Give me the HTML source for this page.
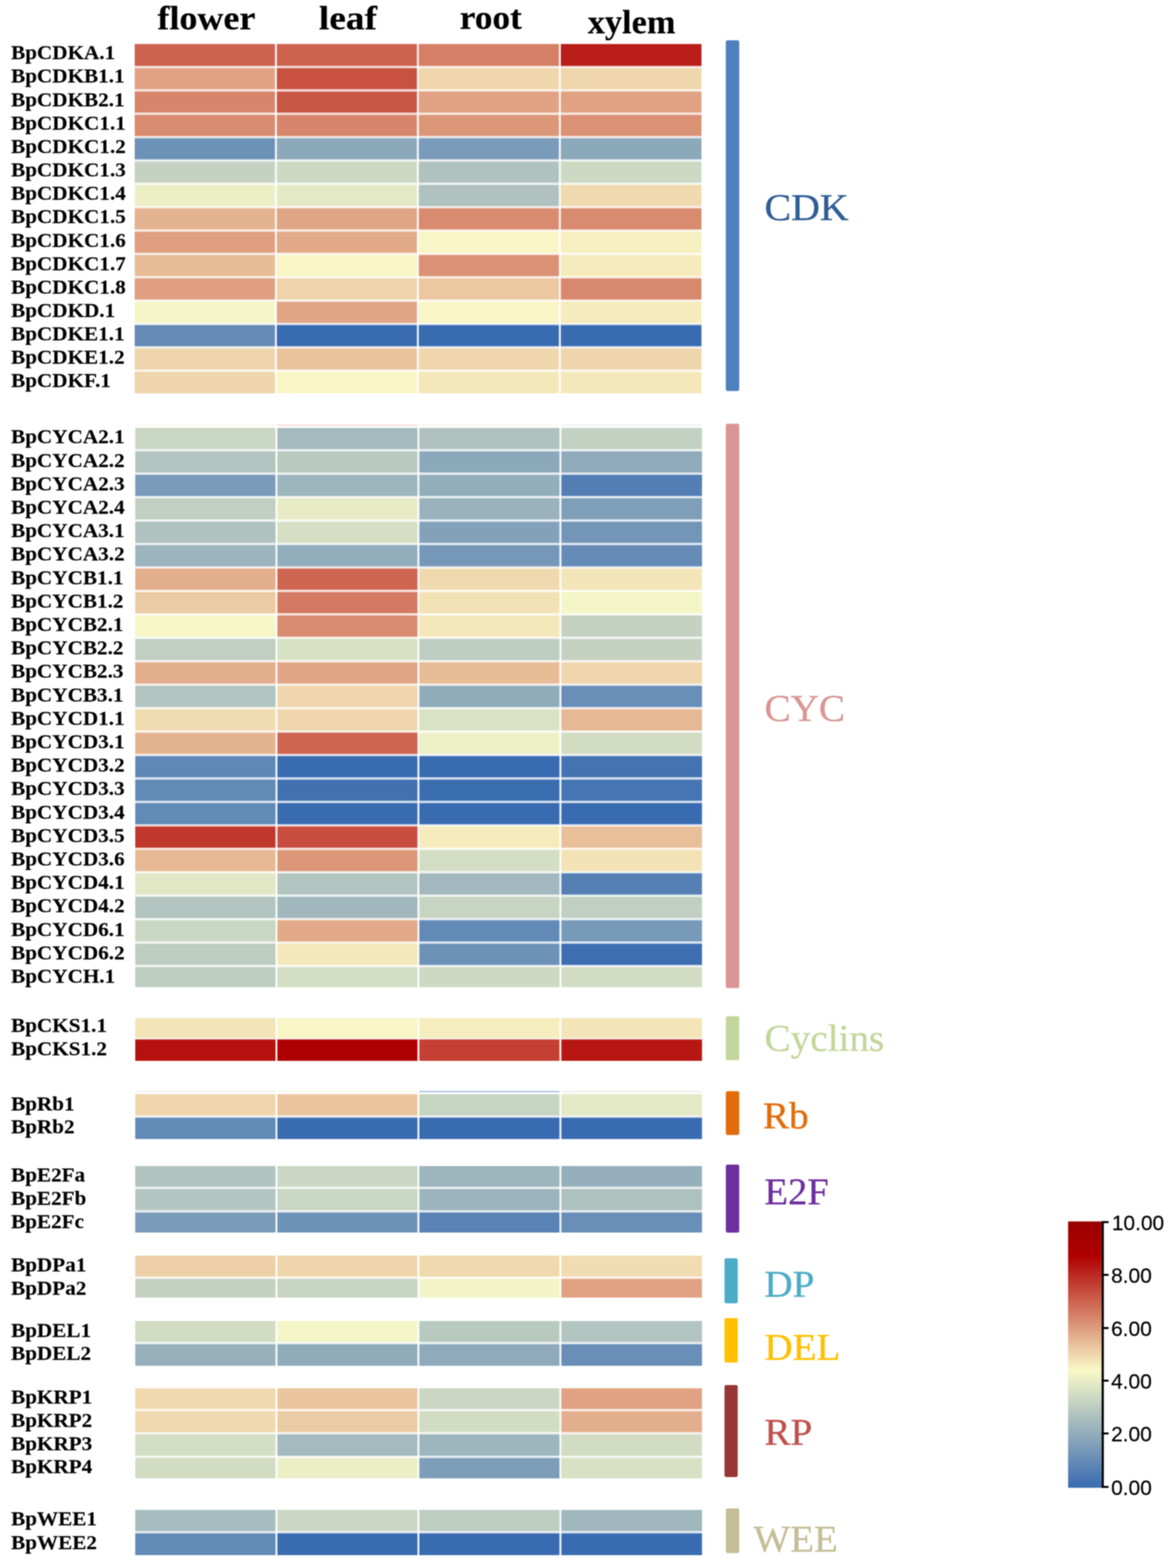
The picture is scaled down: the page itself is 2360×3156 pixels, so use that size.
<!DOCTYPE html>
<html lang="en"><head><meta charset="utf-8"><title>Heatmap</title>
<style>html,body{margin:0;padding:0;background:#fff}svg{display:block}.rl{font-family:"Liberation Serif",serif;font-weight:bold;font-size:41px;fill:#000;stroke:#000;stroke-width:.25px}.ch{font-family:"Liberation Serif",serif;font-weight:bold;font-size:68px;fill:#000;stroke:#000;stroke-width:.3px}.gl{font-family:"Liberation Serif",serif;font-size:76px;stroke-width:.6px}.tk{font-family:"Liberation Sans",sans-serif;font-size:42px;fill:#000;stroke:#000;stroke-width:.35px}</style></head><body>
<svg width="2360" height="3156" viewBox="0 0 2360 3156">
<defs><linearGradient id="cb" x1="0" y1="1" x2="0" y2="0">
<stop offset="0.000" stop-color="#396bb1"/>
<stop offset="0.440" stop-color="#f9f9c8"/>
<stop offset="0.870" stop-color="#b00000"/>
<stop offset="1.000" stop-color="#990000"/>
</linearGradient>
<filter id="soft" x="-2%" y="-2%" width="104%" height="104%" color-interpolation-filters="sRGB"><feGaussianBlur stdDeviation="1.2"/></filter>
</defs>
<rect width="2360" height="3156" fill="#fff"/>
<g filter="url(#soft)">
<text class="ch" x="316.8" y="59.0" textLength="197.0" lengthAdjust="spacingAndGlyphs">flower</text>
<text class="ch" x="641.5" y="59.0" textLength="117.0" lengthAdjust="spacingAndGlyphs">leaf</text>
<text class="ch" x="925.0" y="58.4" textLength="125.0" lengthAdjust="spacingAndGlyphs">root</text>
<text class="ch" x="1182.5" y="66.9" textLength="176.5" lengthAdjust="spacingAndGlyphs">xylem</text>
<rect x="272.1" y="854.9" width="282.1" height="1.7" fill="#f3efdc"/>
<rect x="558.2" y="854.9" width="281.6" height="1.7" fill="#efc4ac"/>
<rect x="843.8" y="854.9" width="281.7" height="1.7" fill="#f3efe2"/>
<rect x="1129.5" y="854.9" width="282.9" height="1.7" fill="#dfeaea"/>
<rect x="272.1" y="2196.2" width="282.1" height="1.7" fill="#e6e9da"/>
<rect x="558.2" y="2196.2" width="281.6" height="1.7" fill="#eeeedc"/>
<rect x="843.8" y="2196.2" width="281.7" height="1.7" fill="#7c9ccc"/>
<rect x="1129.5" y="2196.2" width="282.9" height="1.7" fill="#e3e9d8"/>
<rect x="271.0" y="88.60" width="284.1" height="46.30" fill="#cd624f"/>
<rect x="555.1" y="88.60" width="285.6" height="46.30" fill="#cd624f"/>
<rect x="840.7" y="88.60" width="285.7" height="46.30" fill="#d57f66"/>
<rect x="1126.4" y="88.60" width="284.9" height="46.30" fill="#b81d17"/>
<rect x="271.0" y="134.90" width="284.1" height="47.02" fill="#e0a282"/>
<rect x="555.1" y="134.90" width="285.6" height="47.02" fill="#c85141"/>
<rect x="840.7" y="134.90" width="285.7" height="47.02" fill="#efd6ac"/>
<rect x="1126.4" y="134.90" width="284.9" height="47.02" fill="#efd6ac"/>
<rect x="271.0" y="181.92" width="284.1" height="47.01" fill="#d7856b"/>
<rect x="555.1" y="181.92" width="285.6" height="47.01" fill="#c95746"/>
<rect x="840.7" y="181.92" width="285.7" height="47.01" fill="#e0a282"/>
<rect x="1126.4" y="181.92" width="284.9" height="47.01" fill="#e0a282"/>
<rect x="271.0" y="228.93" width="284.1" height="47.02" fill="#d98b70"/>
<rect x="555.1" y="228.93" width="285.6" height="47.02" fill="#d7856b"/>
<rect x="840.7" y="228.93" width="285.7" height="47.02" fill="#dc9779"/>
<rect x="1126.4" y="228.93" width="284.9" height="47.02" fill="#da9174"/>
<rect x="271.0" y="275.95" width="284.1" height="47.01" fill="#6d92b7"/>
<rect x="555.1" y="275.95" width="285.6" height="47.01" fill="#8ca8bb"/>
<rect x="840.7" y="275.95" width="285.7" height="47.01" fill="#7a9bb9"/>
<rect x="1126.4" y="275.95" width="284.9" height="47.01" fill="#8ca8bb"/>
<rect x="271.0" y="322.96" width="284.1" height="47.01" fill="#c5d2c2"/>
<rect x="555.1" y="322.96" width="285.6" height="47.01" fill="#cdd9c3"/>
<rect x="840.7" y="322.96" width="285.7" height="47.01" fill="#afc2bf"/>
<rect x="1126.4" y="322.96" width="284.9" height="47.01" fill="#cdd9c3"/>
<rect x="271.0" y="369.98" width="284.1" height="47.01" fill="#ecefc6"/>
<rect x="555.1" y="369.98" width="285.6" height="47.01" fill="#e3e9c5"/>
<rect x="840.7" y="369.98" width="285.7" height="47.01" fill="#afc2bf"/>
<rect x="1126.4" y="369.98" width="284.9" height="47.01" fill="#f0d9ae"/>
<rect x="271.0" y="416.99" width="284.1" height="47.01" fill="#e4b390"/>
<rect x="555.1" y="416.99" width="285.6" height="47.01" fill="#e0a585"/>
<rect x="840.7" y="416.99" width="285.7" height="47.01" fill="#d98b70"/>
<rect x="1126.4" y="416.99" width="284.9" height="47.01" fill="#d98b70"/>
<rect x="271.0" y="464.00" width="284.1" height="47.01" fill="#df9f80"/>
<rect x="555.1" y="464.00" width="285.6" height="47.01" fill="#e2aa88"/>
<rect x="840.7" y="464.00" width="285.7" height="47.01" fill="#f8f6c6"/>
<rect x="1126.4" y="464.00" width="284.9" height="47.01" fill="#f6f0c1"/>
<rect x="271.0" y="511.02" width="284.1" height="47.01" fill="#e7bc97"/>
<rect x="555.1" y="511.02" width="285.6" height="47.01" fill="#f8f6c6"/>
<rect x="840.7" y="511.02" width="285.7" height="47.01" fill="#da9174"/>
<rect x="1126.4" y="511.02" width="284.9" height="47.01" fill="#f5ebbc"/>
<rect x="271.0" y="558.03" width="284.1" height="47.01" fill="#df9f80"/>
<rect x="555.1" y="558.03" width="285.6" height="47.01" fill="#eed4aa"/>
<rect x="840.7" y="558.03" width="285.7" height="47.01" fill="#ebc8a0"/>
<rect x="1126.4" y="558.03" width="284.9" height="47.01" fill="#d8886d"/>
<rect x="271.0" y="605.05" width="284.1" height="47.01" fill="#f5f6c7"/>
<rect x="555.1" y="605.05" width="285.6" height="47.01" fill="#e0a585"/>
<rect x="840.7" y="605.05" width="285.7" height="47.01" fill="#f8f6c6"/>
<rect x="1126.4" y="605.05" width="284.9" height="47.01" fill="#f5ebbc"/>
<rect x="271.0" y="652.06" width="284.1" height="47.02" fill="#658bb6"/>
<rect x="555.1" y="652.06" width="285.6" height="47.02" fill="#396bb1"/>
<rect x="840.7" y="652.06" width="285.7" height="47.02" fill="#396bb1"/>
<rect x="1126.4" y="652.06" width="284.9" height="47.02" fill="#396bb1"/>
<rect x="271.0" y="699.08" width="284.1" height="47.01" fill="#eed5ab"/>
<rect x="555.1" y="699.08" width="285.6" height="47.01" fill="#e9c29c"/>
<rect x="840.7" y="699.08" width="285.7" height="47.01" fill="#efd6ac"/>
<rect x="1126.4" y="699.08" width="284.9" height="47.01" fill="#eed5ab"/>
<rect x="271.0" y="746.10" width="284.1" height="45.70" fill="#eed5ab"/>
<rect x="555.1" y="746.10" width="285.6" height="45.70" fill="#f8f6c6"/>
<rect x="840.7" y="746.10" width="285.7" height="45.70" fill="#f4e8ba"/>
<rect x="1126.4" y="746.10" width="284.9" height="45.70" fill="#f4e8ba"/>
<rect x="270.0" y="132.50" width="1142.3" height="4.80" fill="#fff" fill-opacity="0.78"/>
<rect x="270.0" y="179.52" width="1142.3" height="4.80" fill="#fff" fill-opacity="0.78"/>
<rect x="270.0" y="226.53" width="1142.3" height="4.80" fill="#fff" fill-opacity="0.78"/>
<rect x="270.0" y="273.55" width="1142.3" height="4.80" fill="#fff" fill-opacity="0.78"/>
<rect x="270.0" y="320.56" width="1142.3" height="4.80" fill="#fff" fill-opacity="0.78"/>
<rect x="270.0" y="367.58" width="1142.3" height="4.80" fill="#fff" fill-opacity="0.78"/>
<rect x="270.0" y="414.59" width="1142.3" height="4.80" fill="#fff" fill-opacity="0.78"/>
<rect x="270.0" y="461.61" width="1142.3" height="4.80" fill="#fff" fill-opacity="0.78"/>
<rect x="270.0" y="508.62" width="1142.3" height="4.80" fill="#fff" fill-opacity="0.78"/>
<rect x="270.0" y="555.63" width="1142.3" height="4.80" fill="#fff" fill-opacity="0.78"/>
<rect x="270.0" y="602.65" width="1142.3" height="4.80" fill="#fff" fill-opacity="0.78"/>
<rect x="270.0" y="649.66" width="1142.3" height="4.80" fill="#fff" fill-opacity="0.78"/>
<rect x="270.0" y="696.68" width="1142.3" height="4.80" fill="#fff" fill-opacity="0.78"/>
<rect x="270.0" y="743.70" width="1142.3" height="4.80" fill="#fff" fill-opacity="0.78"/>
<rect x="553.10" y="87.60" width="4.00" height="705.20" fill="#fff" fill-opacity="0.92"/>
<rect x="838.70" y="87.60" width="4.00" height="705.20" fill="#fff" fill-opacity="0.92"/>
<rect x="1124.40" y="87.60" width="4.00" height="705.20" fill="#fff" fill-opacity="0.92"/>
<text class="rl" transform="translate(22.2 119.3) scale(1.040 1)">BpCDKA.1</text>
<text class="rl" transform="translate(22.2 166.4) scale(1.040 1)">BpCDKB1.1</text>
<text class="rl" transform="translate(22.2 213.6) scale(1.040 1)">BpCDKB2.1</text>
<text class="rl" transform="translate(22.2 260.8) scale(1.040 1)">BpCDKC1.1</text>
<text class="rl" transform="translate(22.2 307.9) scale(1.040 1)">BpCDKC1.2</text>
<text class="rl" transform="translate(22.2 355.1) scale(1.040 1)">BpCDKC1.3</text>
<text class="rl" transform="translate(22.2 402.2) scale(1.040 1)">BpCDKC1.4</text>
<text class="rl" transform="translate(22.2 449.4) scale(1.040 1)">BpCDKC1.5</text>
<text class="rl" transform="translate(22.2 496.5) scale(1.040 1)">BpCDKC1.6</text>
<text class="rl" transform="translate(22.2 543.6) scale(1.040 1)">BpCDKC1.7</text>
<text class="rl" transform="translate(22.2 590.8) scale(1.040 1)">BpCDKC1.8</text>
<text class="rl" transform="translate(22.2 637.9) scale(1.040 1)">BpCDKD.1</text>
<text class="rl" transform="translate(22.2 685.1) scale(1.040 1)">BpCDKE1.1</text>
<text class="rl" transform="translate(22.2 732.2) scale(1.040 1)">BpCDKE1.2</text>
<text class="rl" transform="translate(22.2 779.4) scale(1.040 1)">BpCDKF.1</text>
<rect x="272.1" y="861.40" width="284.1" height="44.80" fill="#c9d6c2"/>
<rect x="556.2" y="861.40" width="285.6" height="44.80" fill="#a4babe"/>
<rect x="841.8" y="861.40" width="285.7" height="44.80" fill="#afc2bf"/>
<rect x="1127.5" y="861.40" width="284.9" height="44.80" fill="#c2d1c1"/>
<rect x="272.1" y="906.20" width="284.1" height="47.19" fill="#b3c5c0"/>
<rect x="556.2" y="906.20" width="285.6" height="47.19" fill="#b8c9c0"/>
<rect x="841.8" y="906.20" width="285.7" height="47.19" fill="#8ca8bb"/>
<rect x="1127.5" y="906.20" width="284.9" height="47.19" fill="#8eaabb"/>
<rect x="272.1" y="953.39" width="284.1" height="47.19" fill="#7a9bb9"/>
<rect x="556.2" y="953.39" width="285.6" height="47.19" fill="#9db5bd"/>
<rect x="841.8" y="953.39" width="285.7" height="47.19" fill="#92adbc"/>
<rect x="1127.5" y="953.39" width="284.9" height="47.19" fill="#537eb4"/>
<rect x="272.1" y="1000.58" width="284.1" height="47.19" fill="#c0cfc1"/>
<rect x="556.2" y="1000.58" width="285.6" height="47.19" fill="#e8ecc6"/>
<rect x="841.8" y="1000.58" width="285.7" height="47.19" fill="#99b2bc"/>
<rect x="1127.5" y="1000.58" width="284.9" height="47.19" fill="#7f9fb9"/>
<rect x="272.1" y="1047.77" width="284.1" height="47.19" fill="#afc2bf"/>
<rect x="556.2" y="1047.77" width="285.6" height="47.19" fill="#d6dfc4"/>
<rect x="841.8" y="1047.77" width="285.7" height="47.19" fill="#83a2ba"/>
<rect x="1127.5" y="1047.77" width="284.9" height="47.19" fill="#7295b8"/>
<rect x="272.1" y="1094.96" width="284.1" height="47.19" fill="#9bb4bd"/>
<rect x="556.2" y="1094.96" width="285.6" height="47.19" fill="#92adbc"/>
<rect x="841.8" y="1094.96" width="285.7" height="47.19" fill="#7698b8"/>
<rect x="1127.5" y="1094.96" width="284.9" height="47.19" fill="#658bb6"/>
<rect x="272.1" y="1142.15" width="284.1" height="47.19" fill="#e3ae8c"/>
<rect x="556.2" y="1142.15" width="285.6" height="47.19" fill="#ce6551"/>
<rect x="841.8" y="1142.15" width="285.7" height="47.19" fill="#f0d9ae"/>
<rect x="1127.5" y="1142.15" width="284.9" height="47.19" fill="#f3e5b8"/>
<rect x="272.1" y="1189.34" width="284.1" height="47.19" fill="#ebcba3"/>
<rect x="556.2" y="1189.34" width="285.6" height="47.19" fill="#d47a62"/>
<rect x="841.8" y="1189.34" width="285.7" height="47.19" fill="#f2e2b5"/>
<rect x="1127.5" y="1189.34" width="284.9" height="47.19" fill="#f5f6c7"/>
<rect x="272.1" y="1236.53" width="284.1" height="47.19" fill="#f7f7c8"/>
<rect x="556.2" y="1236.53" width="285.6" height="47.19" fill="#d98b70"/>
<rect x="841.8" y="1236.53" width="285.7" height="47.19" fill="#f4e8ba"/>
<rect x="1127.5" y="1236.53" width="284.9" height="47.19" fill="#c5d2c2"/>
<rect x="272.1" y="1283.72" width="284.1" height="47.19" fill="#c0cfc1"/>
<rect x="556.2" y="1283.72" width="285.6" height="47.19" fill="#d8e1c4"/>
<rect x="841.8" y="1283.72" width="285.7" height="47.19" fill="#becdc1"/>
<rect x="1127.5" y="1283.72" width="284.9" height="47.19" fill="#c5d2c2"/>
<rect x="272.1" y="1330.91" width="284.1" height="47.19" fill="#e3ae8c"/>
<rect x="556.2" y="1330.91" width="285.6" height="47.19" fill="#e0a585"/>
<rect x="841.8" y="1330.91" width="285.7" height="47.19" fill="#e7bc97"/>
<rect x="1127.5" y="1330.91" width="284.9" height="47.19" fill="#efd6ac"/>
<rect x="272.1" y="1378.10" width="284.1" height="47.19" fill="#b3c5c0"/>
<rect x="556.2" y="1378.10" width="285.6" height="47.19" fill="#efd6ac"/>
<rect x="841.8" y="1378.10" width="285.7" height="47.19" fill="#90acbb"/>
<rect x="1127.5" y="1378.10" width="284.9" height="47.19" fill="#698eb7"/>
<rect x="272.1" y="1425.29" width="284.1" height="47.19" fill="#f1dcb1"/>
<rect x="556.2" y="1425.29" width="285.6" height="47.19" fill="#efd6ac"/>
<rect x="841.8" y="1425.29" width="285.7" height="47.19" fill="#dae2c4"/>
<rect x="1127.5" y="1425.29" width="284.9" height="47.19" fill="#e6b893"/>
<rect x="272.1" y="1472.48" width="284.1" height="47.19" fill="#e4b390"/>
<rect x="556.2" y="1472.48" width="285.6" height="47.19" fill="#ce6551"/>
<rect x="841.8" y="1472.48" width="285.7" height="47.19" fill="#eef1c7"/>
<rect x="1127.5" y="1472.48" width="284.9" height="47.19" fill="#d2dcc3"/>
<rect x="272.1" y="1519.67" width="284.1" height="47.19" fill="#6088b6"/>
<rect x="556.2" y="1519.67" width="285.6" height="47.19" fill="#396bb1"/>
<rect x="841.8" y="1519.67" width="285.7" height="47.19" fill="#396bb1"/>
<rect x="1127.5" y="1519.67" width="284.9" height="47.19" fill="#4473b2"/>
<rect x="272.1" y="1566.86" width="284.1" height="47.19" fill="#628ab6"/>
<rect x="556.2" y="1566.86" width="285.6" height="47.19" fill="#4271b2"/>
<rect x="841.8" y="1566.86" width="285.7" height="47.19" fill="#3b6db1"/>
<rect x="1127.5" y="1566.86" width="284.9" height="47.19" fill="#4675b3"/>
<rect x="272.1" y="1614.05" width="284.1" height="47.19" fill="#628ab6"/>
<rect x="556.2" y="1614.05" width="285.6" height="47.19" fill="#396bb1"/>
<rect x="841.8" y="1614.05" width="285.7" height="47.19" fill="#396bb1"/>
<rect x="1127.5" y="1614.05" width="284.9" height="47.19" fill="#396bb1"/>
<rect x="272.1" y="1661.24" width="284.1" height="47.19" fill="#c0372c"/>
<rect x="556.2" y="1661.24" width="285.6" height="47.19" fill="#c74e3f"/>
<rect x="841.8" y="1661.24" width="285.7" height="47.19" fill="#f5ebbc"/>
<rect x="1127.5" y="1661.24" width="284.9" height="47.19" fill="#e8bf99"/>
<rect x="272.1" y="1708.43" width="284.1" height="47.19" fill="#e6b893"/>
<rect x="556.2" y="1708.43" width="285.6" height="47.19" fill="#dc9779"/>
<rect x="841.8" y="1708.43" width="285.7" height="47.19" fill="#d4dec4"/>
<rect x="1127.5" y="1708.43" width="284.9" height="47.19" fill="#f2e2b5"/>
<rect x="272.1" y="1755.62" width="284.1" height="47.19" fill="#e1e7c5"/>
<rect x="556.2" y="1755.62" width="285.6" height="47.19" fill="#b3c5c0"/>
<rect x="841.8" y="1755.62" width="285.7" height="47.19" fill="#a2b8be"/>
<rect x="1127.5" y="1755.62" width="284.9" height="47.19" fill="#5580b4"/>
<rect x="272.1" y="1802.81" width="284.1" height="47.19" fill="#b3c5c0"/>
<rect x="556.2" y="1802.81" width="285.6" height="47.19" fill="#a0b7bd"/>
<rect x="841.8" y="1802.81" width="285.7" height="47.19" fill="#c7d4c2"/>
<rect x="1127.5" y="1802.81" width="284.9" height="47.19" fill="#c0cfc1"/>
<rect x="272.1" y="1850.00" width="284.1" height="47.19" fill="#c9d6c2"/>
<rect x="556.2" y="1850.00" width="285.6" height="47.19" fill="#e2aa88"/>
<rect x="841.8" y="1850.00" width="285.7" height="47.19" fill="#628ab6"/>
<rect x="1127.5" y="1850.00" width="284.9" height="47.19" fill="#789ab9"/>
<rect x="272.1" y="1897.19" width="284.1" height="47.19" fill="#becdc1"/>
<rect x="556.2" y="1897.19" width="285.6" height="47.19" fill="#f4e8ba"/>
<rect x="841.8" y="1897.19" width="285.7" height="47.19" fill="#6d92b7"/>
<rect x="1127.5" y="1897.19" width="284.9" height="47.19" fill="#3d6eb2"/>
<rect x="272.1" y="1944.38" width="284.1" height="42.52" fill="#becdc1"/>
<rect x="556.2" y="1944.38" width="285.6" height="42.52" fill="#d4dec4"/>
<rect x="841.8" y="1944.38" width="285.7" height="42.52" fill="#cdd9c3"/>
<rect x="1127.5" y="1944.38" width="284.9" height="42.52" fill="#d2dcc3"/>
<rect x="271.1" y="903.80" width="1142.3" height="4.80" fill="#fff" fill-opacity="0.78"/>
<rect x="271.1" y="950.99" width="1142.3" height="4.80" fill="#fff" fill-opacity="0.78"/>
<rect x="271.1" y="998.18" width="1142.3" height="4.80" fill="#fff" fill-opacity="0.78"/>
<rect x="271.1" y="1045.37" width="1142.3" height="4.80" fill="#fff" fill-opacity="0.78"/>
<rect x="271.1" y="1092.56" width="1142.3" height="4.80" fill="#fff" fill-opacity="0.78"/>
<rect x="271.1" y="1139.75" width="1142.3" height="4.80" fill="#fff" fill-opacity="0.78"/>
<rect x="271.1" y="1186.94" width="1142.3" height="4.80" fill="#fff" fill-opacity="0.78"/>
<rect x="271.1" y="1234.13" width="1142.3" height="4.80" fill="#fff" fill-opacity="0.78"/>
<rect x="271.1" y="1281.32" width="1142.3" height="4.80" fill="#fff" fill-opacity="0.78"/>
<rect x="271.1" y="1328.51" width="1142.3" height="4.80" fill="#fff" fill-opacity="0.78"/>
<rect x="271.1" y="1375.70" width="1142.3" height="4.80" fill="#fff" fill-opacity="0.78"/>
<rect x="271.1" y="1422.89" width="1142.3" height="4.80" fill="#fff" fill-opacity="0.78"/>
<rect x="271.1" y="1470.08" width="1142.3" height="4.80" fill="#fff" fill-opacity="0.78"/>
<rect x="271.1" y="1517.27" width="1142.3" height="4.80" fill="#fff" fill-opacity="0.78"/>
<rect x="271.1" y="1564.46" width="1142.3" height="4.80" fill="#fff" fill-opacity="0.78"/>
<rect x="271.1" y="1611.65" width="1142.3" height="4.80" fill="#fff" fill-opacity="0.78"/>
<rect x="271.1" y="1658.84" width="1142.3" height="4.80" fill="#fff" fill-opacity="0.78"/>
<rect x="271.1" y="1706.03" width="1142.3" height="4.80" fill="#fff" fill-opacity="0.78"/>
<rect x="271.1" y="1753.22" width="1142.3" height="4.80" fill="#fff" fill-opacity="0.78"/>
<rect x="271.1" y="1800.41" width="1142.3" height="4.80" fill="#fff" fill-opacity="0.78"/>
<rect x="271.1" y="1847.60" width="1142.3" height="4.80" fill="#fff" fill-opacity="0.78"/>
<rect x="271.1" y="1894.79" width="1142.3" height="4.80" fill="#fff" fill-opacity="0.78"/>
<rect x="271.1" y="1941.98" width="1142.3" height="4.80" fill="#fff" fill-opacity="0.78"/>
<rect x="554.20" y="860.40" width="4.00" height="1127.50" fill="#fff" fill-opacity="0.92"/>
<rect x="839.80" y="860.40" width="4.00" height="1127.50" fill="#fff" fill-opacity="0.92"/>
<rect x="1125.50" y="860.40" width="4.00" height="1127.50" fill="#fff" fill-opacity="0.92"/>
<text class="rl" transform="translate(22.2 892.3) scale(1.040 1)">BpCYCA2.1</text>
<text class="rl" transform="translate(22.2 939.5) scale(1.040 1)">BpCYCA2.2</text>
<text class="rl" transform="translate(22.2 986.7) scale(1.040 1)">BpCYCA2.3</text>
<text class="rl" transform="translate(22.2 1033.9) scale(1.040 1)">BpCYCA2.4</text>
<text class="rl" transform="translate(22.2 1081.1) scale(1.040 1)">BpCYCA3.1</text>
<text class="rl" transform="translate(22.2 1128.3) scale(1.040 1)">BpCYCA3.2</text>
<text class="rl" transform="translate(22.2 1175.5) scale(1.040 1)">BpCYCB1.1</text>
<text class="rl" transform="translate(22.2 1222.7) scale(1.040 1)">BpCYCB1.2</text>
<text class="rl" transform="translate(22.2 1269.9) scale(1.040 1)">BpCYCB2.1</text>
<text class="rl" transform="translate(22.2 1317.1) scale(1.040 1)">BpCYCB2.2</text>
<text class="rl" transform="translate(22.2 1364.3) scale(1.040 1)">BpCYCB2.3</text>
<text class="rl" transform="translate(22.2 1411.5) scale(1.040 1)">BpCYCB3.1</text>
<text class="rl" transform="translate(22.2 1458.7) scale(1.040 1)">BpCYCD1.1</text>
<text class="rl" transform="translate(22.2 1505.9) scale(1.040 1)">BpCYCD3.1</text>
<text class="rl" transform="translate(22.2 1553.1) scale(1.040 1)">BpCYCD3.2</text>
<text class="rl" transform="translate(22.2 1600.3) scale(1.040 1)">BpCYCD3.3</text>
<text class="rl" transform="translate(22.2 1647.5) scale(1.040 1)">BpCYCD3.4</text>
<text class="rl" transform="translate(22.2 1694.7) scale(1.040 1)">BpCYCD3.5</text>
<text class="rl" transform="translate(22.2 1741.9) scale(1.040 1)">BpCYCD3.6</text>
<text class="rl" transform="translate(22.2 1789.1) scale(1.040 1)">BpCYCD4.1</text>
<text class="rl" transform="translate(22.2 1836.3) scale(1.040 1)">BpCYCD4.2</text>
<text class="rl" transform="translate(22.2 1883.5) scale(1.040 1)">BpCYCD6.1</text>
<text class="rl" transform="translate(22.2 1930.7) scale(1.040 1)">BpCYCD6.2</text>
<text class="rl" transform="translate(22.2 1977.9) scale(1.040 1)">BpCYCH.1</text>
<rect x="272.1" y="2049.30" width="284.1" height="41.40" fill="#f3e5b8"/>
<rect x="556.2" y="2049.30" width="285.6" height="41.40" fill="#f8f6c6"/>
<rect x="841.8" y="2049.30" width="285.7" height="41.40" fill="#f6edbf"/>
<rect x="1127.5" y="2049.30" width="284.9" height="41.40" fill="#f3e5b8"/>
<rect x="272.1" y="2090.70" width="284.1" height="44.50" fill="#b5110e"/>
<rect x="556.2" y="2090.70" width="285.6" height="44.50" fill="#ae0000"/>
<rect x="841.8" y="2090.70" width="285.7" height="44.50" fill="#c34033"/>
<rect x="1127.5" y="2090.70" width="284.9" height="44.50" fill="#b71713"/>
<rect x="271.1" y="2089.00" width="1142.3" height="3.40" fill="#fff" fill-opacity="0.78"/>
<rect x="554.20" y="2048.30" width="4.00" height="87.90" fill="#fff" fill-opacity="0.92"/>
<rect x="839.80" y="2048.30" width="4.00" height="87.90" fill="#fff" fill-opacity="0.92"/>
<rect x="1125.50" y="2048.30" width="4.00" height="87.90" fill="#fff" fill-opacity="0.92"/>
<text class="rl" transform="translate(22.2 2077.1) scale(1.040 1)">BpCKS1.1</text>
<text class="rl" transform="translate(22.2 2124.3) scale(1.040 1)">BpCKS1.2</text>
<rect x="272.1" y="2202.30" width="284.1" height="45.10" fill="#efd6ac"/>
<rect x="556.2" y="2202.30" width="285.6" height="45.10" fill="#eac59e"/>
<rect x="841.8" y="2202.30" width="285.7" height="45.10" fill="#c7d4c2"/>
<rect x="1127.5" y="2202.30" width="284.9" height="45.10" fill="#e3e9c5"/>
<rect x="272.1" y="2247.40" width="284.1" height="45.20" fill="#628ab6"/>
<rect x="556.2" y="2247.40" width="285.6" height="45.20" fill="#396bb1"/>
<rect x="841.8" y="2247.40" width="285.7" height="45.20" fill="#396bb1"/>
<rect x="1127.5" y="2247.40" width="284.9" height="45.20" fill="#396bb1"/>
<rect x="271.1" y="2245.00" width="1142.3" height="4.80" fill="#fff" fill-opacity="0.78"/>
<rect x="554.20" y="2201.30" width="4.00" height="92.30" fill="#fff" fill-opacity="0.92"/>
<rect x="839.80" y="2201.30" width="4.00" height="92.30" fill="#fff" fill-opacity="0.92"/>
<rect x="1125.50" y="2201.30" width="4.00" height="92.30" fill="#fff" fill-opacity="0.92"/>
<text class="rl" transform="translate(22.2 2234.6) scale(1.040 1)">BpRb1</text>
<text class="rl" transform="translate(22.2 2281.4) scale(1.040 1)">BpRb2</text>
<rect x="272.1" y="2347.00" width="284.1" height="43.90" fill="#b1c4bf"/>
<rect x="556.2" y="2347.00" width="285.6" height="43.90" fill="#cbd7c3"/>
<rect x="841.8" y="2347.00" width="285.7" height="43.90" fill="#9db5bd"/>
<rect x="1127.5" y="2347.00" width="284.9" height="43.90" fill="#95afbc"/>
<rect x="272.1" y="2390.90" width="284.1" height="47.30" fill="#b3c5c0"/>
<rect x="556.2" y="2390.90" width="285.6" height="47.30" fill="#c9d6c2"/>
<rect x="841.8" y="2390.90" width="285.7" height="47.30" fill="#9bb4bd"/>
<rect x="1127.5" y="2390.90" width="284.9" height="47.30" fill="#adc1bf"/>
<rect x="272.1" y="2438.20" width="284.1" height="42.60" fill="#7a9bb9"/>
<rect x="556.2" y="2438.20" width="285.6" height="42.60" fill="#6d92b7"/>
<rect x="841.8" y="2438.20" width="285.7" height="42.60" fill="#5a83b5"/>
<rect x="1127.5" y="2438.20" width="284.9" height="42.60" fill="#698eb7"/>
<rect x="271.1" y="2388.50" width="1142.3" height="4.80" fill="#fff" fill-opacity="0.78"/>
<rect x="271.1" y="2435.80" width="1142.3" height="4.80" fill="#fff" fill-opacity="0.78"/>
<rect x="554.20" y="2346.00" width="4.00" height="135.80" fill="#fff" fill-opacity="0.92"/>
<rect x="839.80" y="2346.00" width="4.00" height="135.80" fill="#fff" fill-opacity="0.92"/>
<rect x="1125.50" y="2346.00" width="4.00" height="135.80" fill="#fff" fill-opacity="0.92"/>
<text class="rl" transform="translate(22.2 2377.8) scale(1.040 1)">BpE2Fa</text>
<text class="rl" transform="translate(22.2 2425.1) scale(1.040 1)">BpE2Fb</text>
<text class="rl" transform="translate(22.2 2472.4) scale(1.040 1)">BpE2Fc</text>
<rect x="272.1" y="2527.30" width="284.1" height="44.40" fill="#edd0a7"/>
<rect x="556.2" y="2527.30" width="285.6" height="44.40" fill="#eed5ab"/>
<rect x="841.8" y="2527.30" width="285.7" height="44.40" fill="#f0d9ae"/>
<rect x="1127.5" y="2527.30" width="284.9" height="44.40" fill="#f1dcb1"/>
<rect x="272.1" y="2571.70" width="284.1" height="40.10" fill="#c5d2c2"/>
<rect x="556.2" y="2571.70" width="285.6" height="40.10" fill="#c7d4c2"/>
<rect x="841.8" y="2571.70" width="285.7" height="40.10" fill="#f2f4c7"/>
<rect x="1127.5" y="2571.70" width="284.9" height="40.10" fill="#e0a282"/>
<rect x="271.1" y="2569.30" width="1142.3" height="4.80" fill="#fff" fill-opacity="0.78"/>
<rect x="554.20" y="2526.30" width="4.00" height="86.50" fill="#fff" fill-opacity="0.92"/>
<rect x="839.80" y="2526.30" width="4.00" height="86.50" fill="#fff" fill-opacity="0.92"/>
<rect x="1125.50" y="2526.30" width="4.00" height="86.50" fill="#fff" fill-opacity="0.92"/>
<text class="rl" transform="translate(22.2 2559.2) scale(1.040 1)">BpDPa1</text>
<text class="rl" transform="translate(22.2 2606.2) scale(1.040 1)">BpDPa2</text>
<rect x="272.1" y="2658.90" width="284.1" height="44.40" fill="#d2dcc3"/>
<rect x="556.2" y="2658.90" width="285.6" height="44.40" fill="#f5f6c7"/>
<rect x="841.8" y="2658.90" width="285.7" height="44.40" fill="#b8c9c0"/>
<rect x="1127.5" y="2658.90" width="284.9" height="44.40" fill="#b3c5c0"/>
<rect x="272.1" y="2703.30" width="284.1" height="45.70" fill="#97b0bc"/>
<rect x="556.2" y="2703.30" width="285.6" height="45.70" fill="#90acbb"/>
<rect x="841.8" y="2703.30" width="285.7" height="45.70" fill="#8eaabb"/>
<rect x="1127.5" y="2703.30" width="284.9" height="45.70" fill="#698eb7"/>
<rect x="271.1" y="2700.90" width="1142.3" height="4.80" fill="#fff" fill-opacity="0.78"/>
<rect x="554.20" y="2657.90" width="4.00" height="92.10" fill="#fff" fill-opacity="0.92"/>
<rect x="839.80" y="2657.90" width="4.00" height="92.10" fill="#fff" fill-opacity="0.92"/>
<rect x="1125.50" y="2657.90" width="4.00" height="92.10" fill="#fff" fill-opacity="0.92"/>
<text class="rl" transform="translate(22.2 2690.6) scale(1.040 1)">BpDEL1</text>
<text class="rl" transform="translate(22.2 2737.1) scale(1.040 1)">BpDEL2</text>
<rect x="272.1" y="2794.30" width="284.1" height="43.90" fill="#f0d9ae"/>
<rect x="556.2" y="2794.30" width="285.6" height="43.90" fill="#eac59e"/>
<rect x="841.8" y="2794.30" width="285.7" height="43.90" fill="#cbd7c3"/>
<rect x="1127.5" y="2794.30" width="284.9" height="43.90" fill="#e0a282"/>
<rect x="272.1" y="2838.20" width="284.1" height="46.60" fill="#f0d9ae"/>
<rect x="556.2" y="2838.20" width="285.6" height="46.60" fill="#ebcba3"/>
<rect x="841.8" y="2838.20" width="285.7" height="46.60" fill="#d2dcc3"/>
<rect x="1127.5" y="2838.20" width="284.9" height="46.60" fill="#e3ae8c"/>
<rect x="272.1" y="2884.80" width="284.1" height="47.50" fill="#d4dec4"/>
<rect x="556.2" y="2884.80" width="285.6" height="47.50" fill="#a4babe"/>
<rect x="841.8" y="2884.80" width="285.7" height="47.50" fill="#9db5bd"/>
<rect x="1127.5" y="2884.80" width="284.9" height="47.50" fill="#d2dcc3"/>
<rect x="272.1" y="2932.30" width="284.1" height="43.30" fill="#d2dcc3"/>
<rect x="556.2" y="2932.30" width="285.6" height="43.30" fill="#ecefc6"/>
<rect x="841.8" y="2932.30" width="285.7" height="43.30" fill="#7d9db9"/>
<rect x="1127.5" y="2932.30" width="284.9" height="43.30" fill="#d8e1c4"/>
<rect x="271.1" y="2835.80" width="1142.3" height="4.80" fill="#fff" fill-opacity="0.78"/>
<rect x="271.1" y="2882.40" width="1142.3" height="4.80" fill="#fff" fill-opacity="0.78"/>
<rect x="271.1" y="2929.90" width="1142.3" height="4.80" fill="#fff" fill-opacity="0.78"/>
<rect x="554.20" y="2793.30" width="4.00" height="183.30" fill="#fff" fill-opacity="0.92"/>
<rect x="839.80" y="2793.30" width="4.00" height="183.30" fill="#fff" fill-opacity="0.92"/>
<rect x="1125.50" y="2793.30" width="4.00" height="183.30" fill="#fff" fill-opacity="0.92"/>
<text class="rl" transform="translate(22.2 2825.3) scale(1.040 1)">BpKRP1</text>
<text class="rl" transform="translate(22.2 2872.0) scale(1.040 1)">BpKRP2</text>
<text class="rl" transform="translate(22.2 2918.7) scale(1.040 1)">BpKRP3</text>
<text class="rl" transform="translate(22.2 2965.4) scale(1.040 1)">BpKRP4</text>
<rect x="272.1" y="3039.10" width="284.1" height="44.90" fill="#a6bcbe"/>
<rect x="556.2" y="3039.10" width="285.6" height="44.90" fill="#cbd7c3"/>
<rect x="841.8" y="3039.10" width="285.7" height="44.90" fill="#becdc1"/>
<rect x="1127.5" y="3039.10" width="284.9" height="44.90" fill="#a0b7bd"/>
<rect x="272.1" y="3084.00" width="284.1" height="46.10" fill="#628ab6"/>
<rect x="556.2" y="3084.00" width="285.6" height="46.10" fill="#396bb1"/>
<rect x="841.8" y="3084.00" width="285.7" height="46.10" fill="#396bb1"/>
<rect x="1127.5" y="3084.00" width="284.9" height="46.10" fill="#396bb1"/>
<rect x="271.1" y="3081.60" width="1142.3" height="4.80" fill="#fff" fill-opacity="0.78"/>
<rect x="554.20" y="3038.10" width="4.00" height="93.00" fill="#fff" fill-opacity="0.92"/>
<rect x="839.80" y="3038.10" width="4.00" height="93.00" fill="#fff" fill-opacity="0.92"/>
<rect x="1125.50" y="3038.10" width="4.00" height="93.00" fill="#fff" fill-opacity="0.92"/>
<text class="rl" transform="translate(22.2 3070.2) scale(1.040 1)">BpWEE1</text>
<text class="rl" transform="translate(22.2 3117.8) scale(1.040 1)">BpWEE2</text>
<rect x="1460.3" y="81.0" width="27.0" height="706.0" rx="4" fill="#4d81be"/>
<rect x="1460.3" y="852.7" width="27.0" height="1136.1" rx="4" fill="#D99694"/>
<rect x="1460.3" y="2045.6" width="27.0" height="88.2" rx="4" fill="#C3D69B"/>
<rect x="1460.3" y="2196.2" width="27.0" height="88.4" rx="4" fill="#E36C0A"/>
<rect x="1460.3" y="2344.0" width="27.0" height="137.0" rx="4" fill="#6d2f9e"/>
<rect x="1457.6" y="2532.6" width="26.7" height="90.7" rx="4" fill="#4BACC6"/>
<rect x="1457.6" y="2653.0" width="26.7" height="89.4" rx="4" fill="#FFC000"/>
<rect x="1457.6" y="2787.8" width="26.7" height="185.2" rx="4" fill="#953735"/>
<rect x="1460.3" y="3036.0" width="27.0" height="90.0" rx="4" fill="#C4BD97"/>
<text class="gl" x="1538.3" y="443.2" fill="#2f5d94" stroke="#2f5d94" textLength="169.1" lengthAdjust="spacingAndGlyphs">CDK</text>
<text class="gl" x="1538.3" y="1450.5" fill="#D99694" stroke="#D99694" textLength="161.7" lengthAdjust="spacingAndGlyphs">CYC</text>
<text class="gl" x="1538.3" y="2114.5" fill="#C3D69B" stroke="#C3D69B" textLength="240.7" lengthAdjust="spacingAndGlyphs">Cyclins</text>
<text class="gl" x="1535.0" y="2271.0" fill="#E36C0A" stroke="#E36C0A" textLength="92.0" lengthAdjust="spacingAndGlyphs">Rb</text>
<text class="gl" x="1538.0" y="2423.8" fill="#6d2f9e" stroke="#6d2f9e" textLength="129.5" lengthAdjust="spacingAndGlyphs">E2F</text>
<text class="gl" x="1538.0" y="2609.6" fill="#4BACC6" stroke="#4BACC6" textLength="100.5" lengthAdjust="spacingAndGlyphs">DP</text>
<text class="gl" x="1538.0" y="2736.7" fill="#FFC000" stroke="#FFC000" textLength="152.6" lengthAdjust="spacingAndGlyphs">DEL</text>
<text class="gl" x="1538.0" y="2908.1" fill="#C0504D" stroke="#C0504D" textLength="96.2" lengthAdjust="spacingAndGlyphs">RP</text>
<text class="gl" x="1516.0" y="3123.2" fill="#C4BD97" stroke="#C4BD97" textLength="169.6" lengthAdjust="spacingAndGlyphs">WEE</text>
<rect x="2148.9" y="2458.5" width="67.5" height="536.0" fill="url(#cb)"/>
<rect x="2216.4" y="2458.5" width="4.4" height="536.0" fill="#000"/>
<rect x="2216.4" y="2990.8" width="14" height="4" fill="#000"/>
<text class="tk" x="2235.5" y="3009.0">0.00</text>
<rect x="2216.4" y="2883.2" width="14" height="4" fill="#000"/>
<text class="tk" x="2235.5" y="2901.4">2.00</text>
<rect x="2216.4" y="2776.9" width="14" height="4" fill="#000"/>
<text class="tk" x="2235.5" y="2795.1">4.00</text>
<rect x="2216.4" y="2671.0" width="14" height="4" fill="#000"/>
<text class="tk" x="2235.5" y="2689.2">6.00</text>
<rect x="2216.4" y="2564.0" width="14" height="4" fill="#000"/>
<text class="tk" x="2235.5" y="2582.2">8.00</text>
<rect x="2216.4" y="2457.8" width="14" height="4" fill="#000"/>
<text class="tk" x="2237.0" y="2476.0">10.00</text>
</g>
</svg></body></html>
